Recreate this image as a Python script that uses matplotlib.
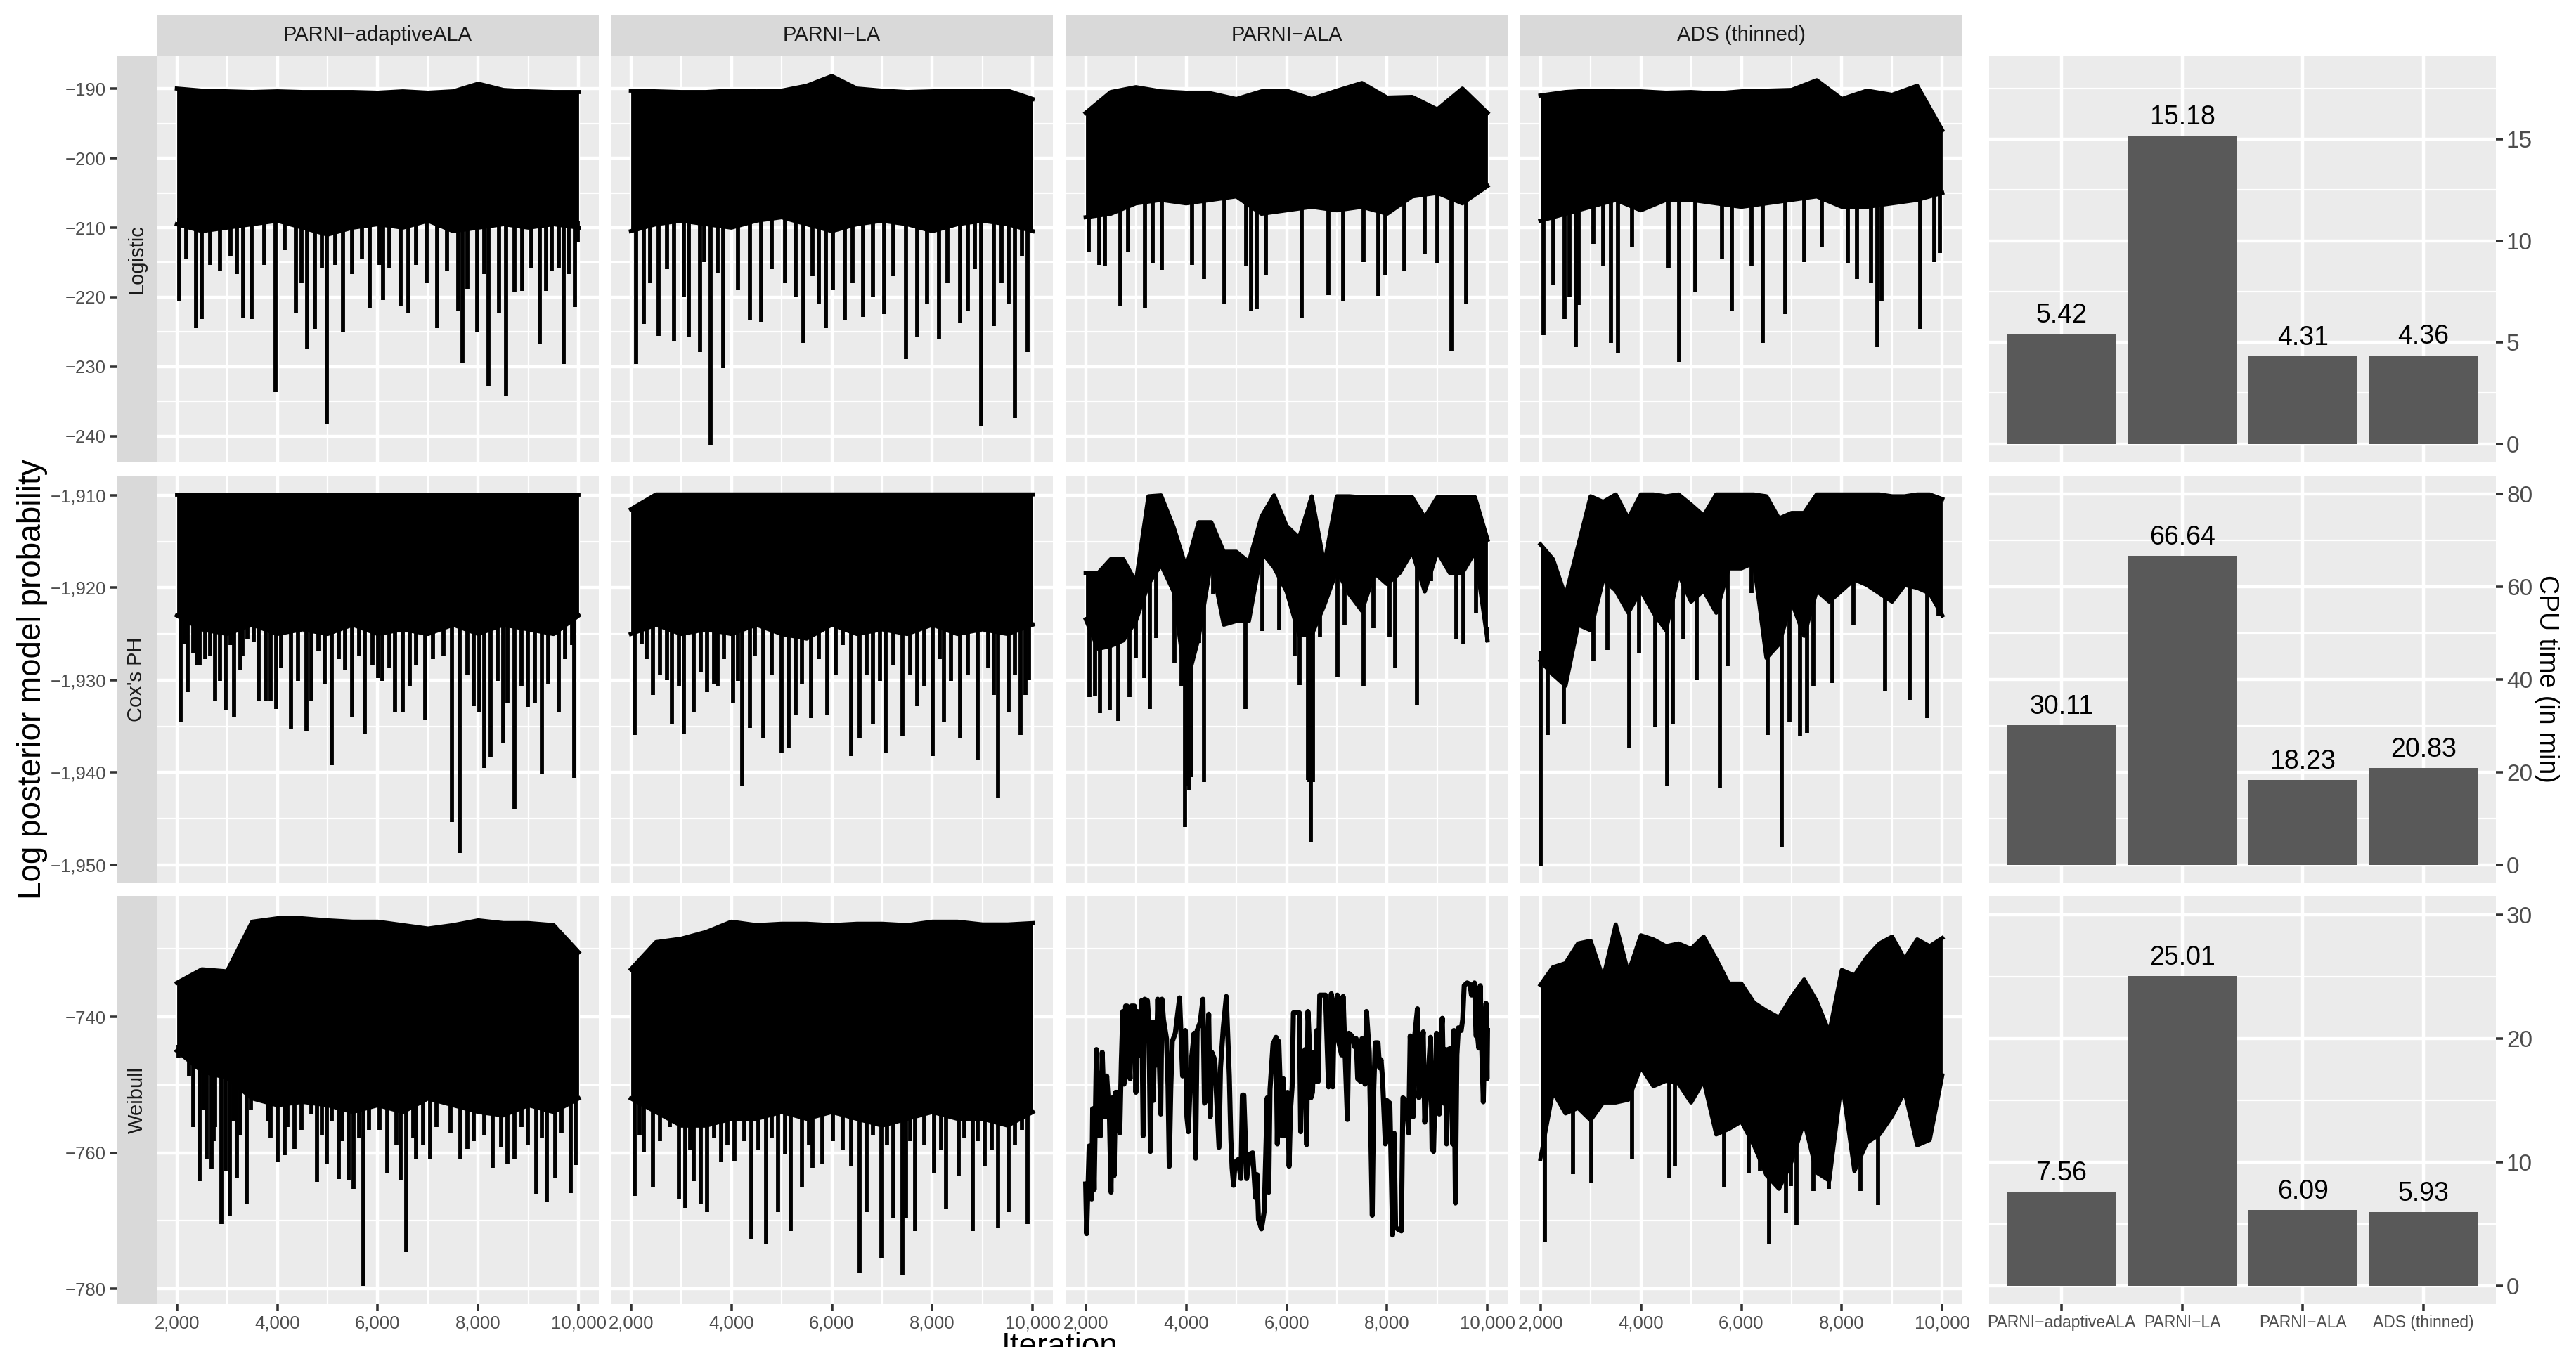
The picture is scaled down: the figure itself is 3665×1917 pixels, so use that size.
import matplotlib

matplotlib.use("Agg")
import matplotlib.pyplot as plt
import numpy as np
from matplotlib.patches import Rectangle
from matplotlib.ticker import FixedLocator, FuncFormatter

plt.rcParams["font.family"] = ["Liberation Sans", "DejaVu Sans"]

# ---------------------------------------------------------------- data
samplers = ["PARNI\u2212adaptiveALA", "PARNI\u2212LA", "PARNI\u2212ALA", "ADS (thinned)"]
models = ["Logistic", "Cox's PH", "Weibull"]

cpu_logistic = [5.42, 15.18, 4.31, 4.36]
cpu_cox = [30.11, 66.64, 18.23, 20.83]
cpu_weibull = [7.56, 25.01, 6.09, 5.93]

# Trace envelopes: upper / lower edge of the dense part of each chain,
# read at evenly spaced iterations between 2,000 and 10,000,
# plus the isolated downward excursions as (iteration, value).
logit_adapt_hi = [-190.0, -190.3, -190.4, -190.5, -190.4, -190.5, -190.5, -190.5, -190.6,
                  -190.4, -190.6, -190.4, -189.3, -190.2, -190.4, -190.5, -190.5]
logit_adapt_lo = [-209.5, -210.5, -210.0, -209.5, -209.0, -210.0, -211.0, -210.0, -209.5,
                  -210.0, -209.0, -210.5, -210.0, -209.5, -210.0, -209.5, -210.0]
logit_adapt_dips = [(2054, -220.6), (2189, -214.5), (2377, -224.4), (2498, -223.1), (2660, -215.4),
                    (2862, -216.3), (3064, -214.1), (3199, -216.7), (3320, -223.0), (3495, -223.1),
                    (3737, -215.4), (3966, -233.6), (4142, -213.2), (4370, -222.2), (4478, -218.0),
                    (4599, -227.4), (4747, -224.5), (4882, -215.8), (4990, -238.2), (5151, -215.4),
                    (5313, -225.0), (5489, -216.7), (5691, -214.5), (5838, -221.5), (6028, -215.4),
                    (6108, -220.4), (6229, -215.8), (6458, -221.3), (6606, -222.2), (6768, -215.4),
                    (6970, -218.0), (7185, -224.4), (7374, -216.3), (7603, -222.0), (7684, -229.4),
                    (7779, -218.9), (7980, -225.0), (8115, -216.7), (8209, -232.8), (8411, -222.2),
                    (8559, -234.2), (8721, -219.3), (8882, -219.1), (9058, -215.8), (9219, -226.7),
                    (9354, -219.1), (9462, -216.3), (9597, -215.8), (9704, -229.6), (9799, -216.7),
                    (9919, -221.4), (9974, -212.0)]

logit_la_hi = [-190.3, -190.4, -190.5, -190.5, -190.3, -190.4, -190.3, -189.6, -188.2,
               -190.0, -190.3, -190.5, -190.4, -190.3, -190.4, -190.3, -191.5]
logit_la_lo = [-210.5, -209.5, -209.0, -209.5, -210.0, -209.0, -208.5, -209.5, -210.5,
               -209.5, -209.0, -209.5, -210.5, -209.5, -209.0, -209.5, -210.5]
logit_la_dips = [(2108, -229.6), (2256, -223.8), (2377, -218.0), (2552, -225.6), (2714, -216.0),
                 (2862, -226.4), (3051, -220.0), (3158, -225.7), (3374, -227.9), (3455, -215.0),
                 (3590, -241.2), (3724, -216.5), (3845, -230.2), (4128, -219.0), (4371, -223.2),
                 (4600, -223.5), (4802, -216.0), (5071, -218.0), (5273, -220.0), (5435, -226.6),
                 (5610, -217.0), (5745, -221.0), (5879, -224.4), (6014, -219.0), (6256, -223.3),
                 (6418, -218.0), (6620, -222.8), (6822, -220.0), (7038, -222.4), (7226, -217.0),
                 (7469, -228.9), (7698, -225.7), (7900, -221.0), (8129, -226.1), (8304, -218.0),
                 (8547, -223.7), (8708, -222.0), (8843, -216.0), (8978, -238.5), (9220, -224.1),
                 (9382, -218.0), (9516, -221.0), (9651, -237.4), (9786, -214.0), (9893, -227.9)]

logit_ala_hi = [-193.5, -190.5, -189.8, -190.4, -190.6, -190.7, -191.5, -190.4, -190.3,
                -191.5, -190.3, -189.2, -191.3, -191.2, -193.0, -190.0, -193.5]
logit_ala_lo = [-208.5, -208.0, -206.5, -206.0, -206.5, -206.0, -205.5, -208.0, -207.5,
                -207.0, -207.5, -207.0, -208.0, -205.5, -205.0, -206.5, -204.0]
logit_ala_dips = [(2058, -213.4), (2268, -215.4), (2384, -215.6), (2698, -221.3), (2850, -213.4),
                  (3176, -221.5), (3339, -215.2), (3513, -216.1), (4118, -215.4), (4363, -217.4),
                  (4759, -221.0), (5201, -215.6), (5294, -222.0), (5399, -221.7), (5585, -216.9),
                  (6295, -223.0), (6831, -219.7), (7122, -220.6), (7529, -215.0), (7820, -219.8),
                  (7960, -216.9), (8344, -216.3), (8751, -213.8), (9007, -215.2), (9275, -227.7),
                  (9578, -221.0)]

logit_ads_hi = [-191.0, -190.5, -190.3, -190.4, -190.4, -190.6, -190.5, -190.7, -190.4,
                -190.3, -190.2, -188.8, -191.5, -190.3, -190.9, -189.6, -196.0]
logit_ads_lo = [-209.0, -208.0, -207.0, -206.0, -207.5, -206.0, -206.0, -206.5, -207.0,
                -206.5, -206.0, -205.5, -207.0, -207.0, -206.5, -206.0, -205.0]
logit_ads_dips = [(2058, -225.5), (2256, -218.2), (2478, -223.1), (2583, -220.0), (2700, -227.2),
                  (2758, -221.1), (3049, -212.3), (3248, -215.6), (3399, -226.6), (3551, -228.1),
                  (3819, -212.8), (4553, -215.8), (4763, -229.3), (5090, -219.3), (5615, -214.5),
                  (5813, -222.0), (6198, -215.6), (6431, -226.6), (6874, -222.4), (7247, -215.0),
                  (7597, -212.8), (8122, -215.2), (8297, -217.4), (8588, -218.0), (8705, -227.2),
                  (8798, -220.6), (9556, -224.5), (9836, -215.0), (9952, -213.6)]

cox_adapt_hi = [-1909.9, -1909.9, -1909.9, -1909.9, -1909.9, -1909.9, -1909.9, -1909.9, -1909.9,
                -1909.9, -1909.9, -1909.9, -1909.9, -1909.9, -1909.9, -1909.9, -1909.9]
cox_adapt_lo = [-1923.0, -1924.5, -1925.0, -1924.0, -1925.0, -1924.5, -1925.0, -1924.0, -1925.0,
                -1924.5, -1925.0, -1924.0, -1925.0, -1924.0, -1924.5, -1925.0, -1923.0]
cox_adapt_dips = [(2081, -1934.6), (2148, -1926.1), (2215, -1931.3), (2323, -1927.1), (2391, -1928.3),
                  (2458, -1928.3), (2566, -1927.7), (2660, -1927.4), (2768, -1932.2), (2862, -1930.1),
                  (2970, -1933.2), (3064, -1926.2), (3145, -1934.0), (3266, -1928.9), (3307, -1927.4),
                  (3401, -1925.5), (3536, -1925.8), (3630, -1932.3), (3765, -1932.3), (3872, -1932.2),
                  (3980, -1933.1), (4074, -1928.6), (4276, -1935.3), (4411, -1930.1), (4573, -1935.5),
                  (4680, -1932.2), (4815, -1926.8), (4950, -1930.4), (5085, -1939.2), (5219, -1927.7),
                  (5354, -1928.9), (5489, -1934.0), (5623, -1927.4), (5745, -1935.8), (5893, -1928.3),
                  (6001, -1929.8), (6095, -1930.1), (6230, -1928.6), (6337, -1933.4), (6499, -1933.4),
                  (6634, -1930.7), (6768, -1928.3), (6943, -1934.3), (7105, -1927.7), (7307, -1927.4),
                  (7482, -1945.4), (7630, -1948.7), (7779, -1929.5), (7913, -1932.8), (8021, -1933.4),
                  (8115, -1939.5), (8250, -1938.3), (8385, -1930.1), (8493, -1936.8), (8587, -1932.5),
                  (8722, -1943.9), (8856, -1930.7), (8991, -1932.9), (9126, -1932.5), (9260, -1940.1),
                  (9395, -1930.4), (9597, -1933.4), (9732, -1927.7), (9867, -1926.2), (9906, -1940.6)]

cox_la_hi = [-1911.5, -1909.9, -1909.9, -1909.9, -1909.9, -1909.9, -1909.9, -1909.9, -1909.9,
             -1909.9, -1909.9, -1909.9, -1909.9, -1909.9, -1909.9, -1909.9, -1909.9]
cox_la_lo = [-1925.0, -1924.0, -1925.0, -1924.5, -1925.0, -1924.0, -1925.0, -1925.5, -1924.0,
             -1925.0, -1924.5, -1925.0, -1924.0, -1925.0, -1924.5, -1925.0, -1924.0]
cox_la_dips = [(2081, -1935.9), (2216, -1926.1), (2310, -1927.7), (2445, -1931.6), (2579, -1929.5),
               (2714, -1930.0), (2822, -1934.7), (2956, -1930.7), (3051, -1935.8), (3253, -1933.4),
               (3387, -1929.2), (3522, -1931.3), (3657, -1930.4), (3724, -1930.7), (3859, -1927.7),
               (4034, -1932.5), (4128, -1930.1), (4223, -1941.5), (4371, -1935.2), (4465, -1927.4),
               (4640, -1936.2), (4802, -1929.5), (5004, -1937.9), (5138, -1937.4), (5273, -1933.7),
               (5408, -1930.4), (5583, -1934.1), (5745, -1927.7), (5906, -1933.8), (6081, -1929.5),
               (6216, -1926.2), (6391, -1938.2), (6553, -1936.2), (6688, -1929.5), (6822, -1934.7),
               (6957, -1930.1), (7065, -1937.9), (7226, -1928.3), (7401, -1936.1), (7563, -1929.5),
               (7698, -1932.8), (7833, -1930.7), (8008, -1938.2), (8142, -1927.7), (8237, -1934.6),
               (8371, -1930.1), (8547, -1936.2), (8708, -1929.5), (8910, -1938.6), (9112, -1928.6),
               (9220, -1931.6), (9314, -1942.8), (9516, -1933.4), (9651, -1929.5), (9758, -1935.9),
               (9853, -1931.6), (9920, -1930.0)]

cox_ala_hi = [-1918.4, -1918.4, -1916.9, -1916.9, -1919.4, -1910.1, -1910.0, -1913.4, -1917.8,
              -1912.9, -1912.9, -1916.1, -1916.1, -1917.2, -1912.3, -1910.0, -1913.3, -1914.6,
              -1910.1, -1917.5, -1910.1, -1910.1, -1910.2, -1910.2, -1910.2, -1910.2, -1910.2,
              -1912.4, -1910.2, -1910.2, -1910.2, -1910.2, -1914.8]
cox_ala_lo = [-1923.4, -1926.6, -1926.3, -1925.7, -1923.6, -1919.6, -1917.5, -1920.4, -1930.6,
              -1925.4, -1917.2, -1924.0, -1923.6, -1923.6, -1916.1, -1917.8, -1920.4, -1925.1,
              -1925.1, -1921.9, -1918.1, -1920.7, -1922.5, -1918.4, -1919.6, -1918.4, -1916.1,
              -1920.4, -1916.1, -1918.4, -1918.4, -1916.1, -1925.7]
cox_ala_dips = [(2075, -1931.8), (2192, -1931.7), (2279, -1933.6), (2482, -1933.3), (2656, -1934.4),
                (2877, -1931.8), (2993, -1927.6), (3167, -1929.8), (3277, -1933.1), (3411, -1925.4),
                (3771, -1928.2), (3904, -1930.6), (3980, -1945.9), (4000, -1940.0), (4030, -1941.5),
                (4067, -1941.9), (4100, -1940.5), (4253, -1926.0), (4351, -1941.0), (4543, -1920.7),
                (4775, -1924.1), (4949, -1923.5), (5182, -1933.1), (5518, -1924.7), (5849, -1924.5),
                (6163, -1927.4), (6256, -1930.5), (6420, -1940.8), (6450, -1941.0), (6488, -1947.6),
                (6520, -1941.0), (6662, -1925.3), (7011, -1929.6), (7156, -1924.1), (7533, -1930.6),
                (7725, -1924.4), (8044, -1925.3), (8160, -1928.6), (8590, -1932.7), (8869, -1919.3),
                (9374, -1925.5), (9525, -1926.1), (9769, -1922.8), (9990, -1925.8)]

cox_ads_hi = [-1915.3, -1916.9, -1920.9, -1915.5, -1910.1, -1910.7, -1909.9, -1912.5, -1909.9,
              -1909.9, -1910.1, -1909.9, -1911.0, -1912.2, -1909.9, -1909.9, -1909.9, -1909.9,
              -1910.1, -1912.5, -1911.9, -1911.9, -1909.9, -1909.9, -1909.9, -1909.9, -1909.9,
              -1909.9, -1910.1, -1910.1, -1909.9, -1909.9, -1910.4]
cox_ads_lo = [-1927.9, -1929.4, -1930.6, -1924.0, -1924.6, -1919.1, -1920.3, -1922.7, -1920.3,
              -1922.7, -1924.6, -1918.5, -1921.5, -1920.3, -1922.7, -1917.9, -1917.9, -1917.3,
              -1927.6, -1926.1, -1921.5, -1925.2, -1920.3, -1921.5, -1920.3, -1919.1, -1919.7,
              -1920.6, -1921.5, -1919.7, -1920.0, -1920.6, -1923.0]
cox_ads_dips = [(2000, -1950.1), (2152, -1935.9), (2466, -1934.8), (2653, -1924.0), (3049, -1927.9),
                (3329, -1926.7), (3772, -1937.4), (3959, -1927.0), (4285, -1935.1), (4530, -1941.5),
                (4635, -1934.8), (4845, -1925.5), (5113, -1930.0), (5568, -1941.6), (5731, -1928.5),
                (6198, -1920.6), (6524, -1935.9), (6804, -1948.1), (6956, -1934.5), (7165, -1936.0),
                (7305, -1935.7), (7434, -1930.6), (7807, -1930.3), (8238, -1924.0), (8856, -1931.2),
                (9346, -1932.1), (9696, -1934.1), (9929, -1923.0)]

weib_adapt_hi = [-735.0, -733.0, -733.3, -726.0, -725.5, -725.5, -725.8, -726.0, -726.0,
                 -726.5, -727.0, -726.5, -725.8, -726.2, -726.2, -726.5, -730.5]
weib_adapt_lo = [-745.0, -748.0, -749.0, -752.0, -753.0, -752.5, -753.0, -754.0, -753.0,
                 -754.0, -752.0, -753.0, -754.0, -754.5, -753.0, -754.0, -752.0]
weib_adapt_dips = [(2027, -746.0), (2242, -748.8), (2323, -756.2), (2458, -764.2), (2525, -753.6),
                   (2593, -760.9), (2687, -762.4), (2727, -758.3), (2768, -756.2), (2889, -770.5),
                   (2970, -762.7), (3051, -769.2), (3131, -755.3), (3199, -763.7), (3266, -757.5),
                   (3388, -767.6), (3468, -753.6), (3657, -751.6), (3805, -755.3), (3872, -757.9),
                   (4007, -761.4), (4142, -760.3), (4209, -756.2), (4344, -759.4), (4478, -756.6),
                   (4680, -754.4), (4788, -764.3), (4882, -757.5), (4990, -761.6), (5085, -755.3),
                   (5219, -763.9), (5287, -758.3), (5421, -764.0), (5516, -765.3), (5623, -757.9),
                   (5718, -779.6), (5825, -756.6), (6028, -756.6), (6189, -762.9), (6364, -758.8),
                   (6458, -764.0), (6566, -774.6), (6701, -757.9), (6768, -760.9), (6903, -758.8),
                   (7038, -760.9), (7172, -756.2), (7307, -751.8), (7442, -757.0), (7644, -760.9),
                   (7778, -759.4), (7913, -758.3), (8115, -757.5), (8290, -762.2), (8452, -759.2),
                   (8587, -761.6), (8721, -760.9), (8856, -756.2), (8991, -758.8), (9152, -766.0),
                   (9260, -757.9), (9368, -767.2), (9530, -763.7), (9664, -757.0), (9840, -765.9),
                   (9934, -761.8)]

weib_la_hi = [-733.0, -729.0, -728.5, -727.5, -726.0, -726.5, -726.3, -726.3, -726.5,
              -726.3, -726.3, -726.5, -726.0, -726.0, -726.4, -726.4, -726.2]
weib_la_lo = [-752.0, -754.0, -756.0, -756.0, -755.0, -755.0, -754.0, -755.0, -754.0,
              -755.0, -756.0, -755.0, -754.0, -755.0, -755.0, -756.0, -754.0]
weib_la_dips = [(2081, -766.3), (2175, -757.5), (2256, -759.8), (2445, -765.0), (2579, -758.3),
                (2781, -756.2), (2956, -766.9), (3078, -768.1), (3185, -759.6), (3253, -764.2),
                (3387, -767.6), (3522, -768.7), (3657, -757.9), (3791, -761.4), (3926, -758.8),
                (4061, -761.2), (4263, -758.3), (4398, -772.8), (4532, -759.6), (4694, -773.5),
                (4802, -757.9), (4936, -768.7), (5071, -760.1), (5179, -771.5), (5408, -765.0),
                (5543, -758.8), (5610, -762.2), (5812, -761.6), (6014, -758.3), (6216, -759.6),
                (6391, -762.0), (6553, -777.6), (6688, -768.7), (6822, -757.5), (6984, -775.4),
                (7092, -758.8), (7226, -769.6), (7401, -778.0), (7469, -769.6), (7563, -758.3),
                (7658, -771.5), (7833, -758.8), (8034, -762.9), (8169, -759.6), (8277, -768.3),
                (8520, -763.3), (8641, -757.9), (8802, -771.5), (8910, -758.3), (9045, -762.0),
                (9180, -759.6), (9314, -771.1), (9516, -768.7), (9651, -758.8), (9786, -756.6),
                (9893, -770.5)]

weib_ala_trace = [
    (2000, -764.6), (2020, -771.9), (2070, -759.0), (2120, -766.8), (2140, -753.5), (2170, -765.4),
    (2215, -744.8), (2245, -757.5), (2275, -748.3), (2300, -757.5), (2330, -745.2), (2360, -751.9),
    (2390, -754.7), (2420, -748.7), (2475, -755.1), (2505, -765.8), (2535, -751.9), (2565, -763.4),
    (2595, -751.1), (2650, -751.1), (2680, -757.1), (2710, -746.7), (2740, -739.2), (2765, -749.9),
    (2795, -738.4), (2825, -738.4), (2885, -749.1), (2910, -738.4), (2970, -738.4), (3000, -751.1),
    (3030, -739.2), (3085, -745.6), (3115, -737.6), (3145, -757.5), (3175, -737.4), (3230, -737.6),
    (3260, -740.8), (3290, -759.8), (3320, -740.8), (3350, -752.3), (3375, -740.8), (3405, -747.1),
    (3435, -737.4), (3495, -754.3), (3520, -737.4), (3550, -740.4), (3610, -743.2), (3640, -750.3),
    (3665, -762.0), (3695, -750.7), (3725, -743.6), (3785, -742.4), (3870, -737.2), (3930, -748.7),
    (3985, -742.0), (4015, -754.7), (4045, -756.9), (4075, -751.1), (4105, -746.3), (4160, -742.4),
    (4190, -760.8), (4220, -742.0), (4280, -740.8), (4335, -737.4), (4365, -752.7), (4395, -752.3),
    (4450, -739.6), (4480, -754.7), (4510, -745.2), (4570, -746.3), (4625, -754.7), (4655, -759.2),
    (4685, -747.5), (4740, -741.6), (4800, -737.0), (4860, -748.7), (4890, -757.9), (4915, -762.2),
    (4945, -764.8), (4975, -761.4), (5035, -761.0), (5090, -763.8), (5120, -751.5), (5150, -751.5),
    (5205, -763.8), (5265, -760.2), (5325, -760.0), (5380, -766.6), (5410, -763.2), (5440, -769.8),
    (5500, -771.2), (5555, -768.6), (5615, -751.9), (5645, -765.8), (5670, -750.7), (5730, -744.0),
    (5790, -743.0), (5815, -758.7), (5845, -743.6), (5905, -757.5), (5935, -749.1), (5960, -757.5),
    (6020, -751.1), (6050, -762.0), (6080, -753.5), (6110, -750.3), (6135, -739.4), (6195, -739.4),
    (6255, -739.4), (6280, -756.9), (6310, -745.6), (6370, -744.8), (6400, -758.8), (6425, -739.2),
    (6455, -744.0), (6485, -751.9), (6515, -751.1), (6545, -745.2), (6570, -749.5), (6600, -742.0),
    (6630, -749.5), (6660, -736.8), (6775, -736.8), (6835, -750.3), (6890, -736.6), (6920, -750.3),
    (6950, -738.8), (7010, -736.8), (7035, -743.6), (7095, -745.6), (7125, -737.0), (7155, -743.6),
    (7210, -755.1), (7240, -742.4), (7300, -742.8), (7355, -744.4), (7385, -743.2), (7415, -749.1),
    (7475, -749.5), (7500, -743.2), (7560, -749.9), (7590, -739.2), (7645, -745.2), (7705, -769.2),
    (7735, -750.7), (7765, -743.8), (7820, -743.8), (7850, -747.5), (7880, -746.3), (7910, -749.1),
    (7965, -758.7), (7995, -752.3), (8055, -752.7), (8110, -772.1), (8140, -757.1), (8170, -771.0),
    (8230, -771.3), (8285, -771.5), (8315, -751.9), (8375, -752.3), (8430, -757.1), (8460, -742.8),
    (8520, -754.7), (8550, -742.8), (8605, -738.8), (8635, -751.9), (8695, -744.4), (8720, -742.2),
    (8750, -755.5), (8810, -749.5), (8865, -743.0), (8895, -759.4), (8925, -759.8), (8985, -742.4),
    (9040, -754.3), (9070, -743.2), (9100, -740.2), (9130, -752.7), (9160, -744.8), (9185, -758.7),
    (9215, -744.8), (9275, -744.6), (9305, -758.7), (9330, -742.0), (9360, -767.4), (9390, -745.6),
    (9420, -741.6), (9475, -742.0), (9505, -740.4), (9535, -735.4), (9595, -735.0), (9650, -735.2),
    (9680, -736.8), (9740, -735.0), (9770, -742.8), (9795, -742.4), (9825, -744.6), (9855, -735.4),
    (9885, -744.8), (9915, -752.5), (9940, -744.0), (9970, -738.0), (9990, -749.1), (10000, -742.0),
]

weib_ads_hi = [-735.3, -732.7, -732.1, -729.2, -728.8, -734.3, -726.4, -733.5, -728.0, -728.6,
               -729.6, -729.2, -730.0, -728.2, -731.5, -735.1, -735.1, -737.9, -739.1, -740.1,
               -737.1, -734.5, -737.7, -742.3, -733.1, -733.9, -731.2, -729.2, -728.2, -731.5,
               -728.6, -729.6, -728.4]
weib_ads_lo = [-760.9, -751.0, -754.2, -753.4, -755.2, -752.6, -752.6, -752.2, -747.4, -750.2,
               -749.4, -749.8, -752.6, -749.4, -757.3, -756.5, -755.4, -758.9, -763.3, -765.3,
               -761.3, -755.4, -762.9, -764.1, -749.4, -762.7, -758.5, -757.3, -754.6, -751.0,
               -758.9, -758.1, -748.6]
weib_ads_dips = [(2087, -773.2), (2650, -763.1), (3016, -764.4), (3829, -760.9), (4572, -763.7),
                 (4682, -761.9), (5658, -765.1), (6151, -762.9), (6366, -762.7), (6558, -773.4),
                 (6883, -768.8), (6993, -764.9), (7092, -770.6), (7429, -765.6), (7690, -764.1),
                 (7748, -765.3), (8375, -765.6), (8723, -767.7), (9507, -758.9), (9722, -758.1)]

# ---------------------------------------------------------------- layout
FIG_W, FIG_H, DPI = 3665, 1917, 300
PANEL_BG = "#EBEBEB"
STRIP_BG = "#D9D9D9"
TICK_COLOR = "#333333"
LABEL_COLOR = "#4D4D4D"
TRACE_LW = 1.4

col_left = [223, 869, 1516, 2163]
col_width = 629
row_top = [79, 677, 1275]
row_bottom = [658, 1257, 1856]
bar_left, bar_right = 2830, 3551

row_ylim = [(-243.74, -185.25), (-1951.98, -1907.87), (-782.27, -722.2)]
row_major = [list(range(-240, -189, 10)), list(range(-1950, -1909, 10)), [-780, -760, -740]]
row_minor = [list(range(-235, -184, 10)), list(range(-1945, -1914, 10)), [-770, -750, -730]]
iter_major = [2000, 4000, 6000, 8000, 10000]
iter_minor = [3000, 5000, 7000, 9000]


def rect(left, top, right, bottom):
    return [left / FIG_W, 1 - bottom / FIG_H, (right - left) / FIG_W, (bottom - top) / FIG_H]


def style_panel(ax):
    ax.set_facecolor(PANEL_BG)
    for spine in ax.spines.values():
        spine.set_visible(False)
    ax.set_axisbelow(True)
    ax.grid(which="major", color="white", linewidth=1.07)
    ax.grid(which="minor", color="white", linewidth=0.53)
    ax.tick_params(which="major", length=2.4, width=0.85, color=TICK_COLOR,
                   labelcolor=LABEL_COLOR, pad=1.2)
    ax.tick_params(which="minor", length=0)


def draw_band(ax, hi, lo, dips):
    x = np.linspace(2000, 10000, len(hi))
    ax.fill_between(x, lo, hi, color="black", linewidth=0)
    ax.plot(x, hi, color="black", lw=TRACE_LW, solid_joinstyle="round")
    ax.plot(x, lo, color="black", lw=TRACE_LW, solid_joinstyle="round")
    its = [d[0] for d in dips]
    vals = [d[1] for d in dips]
    starts = np.interp(its, x, lo) + 1.0
    ax.vlines(its, starts, vals, color="black", lw=TRACE_LW)


def thousands(v, pos):
    return f"{v:,.0f}".replace("-", "\u2212")


fig = plt.figure(figsize=(FIG_W / DPI, FIG_H / DPI), dpi=DPI)

bands = {
    (0, 0): (logit_adapt_hi, logit_adapt_lo, logit_adapt_dips),
    (0, 1): (logit_la_hi, logit_la_lo, logit_la_dips),
    (0, 2): (logit_ala_hi, logit_ala_lo, logit_ala_dips),
    (0, 3): (logit_ads_hi, logit_ads_lo, logit_ads_dips),
    (1, 0): (cox_adapt_hi, cox_adapt_lo, cox_adapt_dips),
    (1, 1): (cox_la_hi, cox_la_lo, cox_la_dips),
    (1, 2): (cox_ala_hi, cox_ala_lo, cox_ala_dips),
    (1, 3): (cox_ads_hi, cox_ads_lo, cox_ads_dips),
    (2, 0): (weib_adapt_hi, weib_adapt_lo, weib_adapt_dips),
    (2, 1): (weib_la_hi, weib_la_lo, weib_la_dips),
    (2, 3): (weib_ads_hi, weib_ads_lo, weib_ads_dips),
}

for r in range(3):
    for c in range(4):
        ax = fig.add_axes(rect(col_left[c], row_top[r], col_left[c] + col_width, row_bottom[r]))
        style_panel(ax)
        if (r, c) in bands:
            draw_band(ax, *bands[(r, c)])
        else:
            ax.plot([p[0] for p in weib_ala_trace], [p[1] for p in weib_ala_trace],
                    color="black", lw=1.7, solid_joinstyle="round")
        ax.set_xlim(1600, 10400)
        ax.set_ylim(*row_ylim[r])
        ax.xaxis.set_major_locator(FixedLocator(iter_major))
        ax.xaxis.set_minor_locator(FixedLocator(iter_minor))
        ax.yaxis.set_major_locator(FixedLocator(row_major[r]))
        ax.yaxis.set_minor_locator(FixedLocator(row_minor[r]))
        ax.xaxis.set_major_formatter(FuncFormatter(thousands))
        ax.yaxis.set_major_formatter(FuncFormatter(thousands))
        ax.tick_params(labelsize=6.2)
        if c == 0:
            # y axis sits outside the row strip
            ax.spines["left"].set_position(("outward", 57 / DPI * 72))
        else:
            ax.tick_params(axis="y", left=False, labelleft=False)
        if r != 2:
            ax.tick_params(axis="x", bottom=False, labelbottom=False)

# column strips
for c, name in enumerate(samplers):
    fig.add_artist(Rectangle((col_left[c] / FIG_W, 1 - 79 / FIG_H), col_width / FIG_W, 58 / FIG_H,
                             transform=fig.transFigure, facecolor=STRIP_BG, edgecolor="none"))
    fig.text((col_left[c] + col_width / 2) / FIG_W, 1 - 50 / FIG_H, name, ha="center", va="center",
             fontsize=7, color="#1A1A1A")

# row strips
for r, name in enumerate(models):
    fig.add_artist(Rectangle((166 / FIG_W, 1 - row_bottom[r] / FIG_H), 57 / FIG_W,
                             (row_bottom[r] - row_top[r]) / FIG_H,
                             transform=fig.transFigure, facecolor=STRIP_BG, edgecolor="none"))
    fig.text(194.5 / FIG_W, 1 - (row_top[r] + row_bottom[r]) / 2 / FIG_H, name, rotation=90,
             ha="center", va="center", fontsize=7, color="#1A1A1A")

# CPU time bars
cpu_rows = [cpu_logistic, cpu_cox, cpu_weibull]
bar_major = [[0, 5, 10, 15], [0, 20, 40, 60, 80], [0, 10, 20, 30]]
bar_minor = [[2.5, 7.5, 12.5, 17.5], [10, 30, 50, 70], [5, 15, 25]]
for r, vals in enumerate(cpu_rows):
    ax = fig.add_axes(rect(bar_left, row_top[r], bar_right, row_bottom[r]))
    style_panel(ax)
    pos = np.arange(len(samplers))
    ax.bar(pos, vals, width=0.9, color="#595959")
    for p, v in zip(pos, vals):
        ax.annotate(f"{v:.2f}", (p, v), xytext=(0, 2.0), textcoords="offset points",
                    ha="center", va="bottom", fontsize=9, color="black")
    top = max(vals) * 1.2
    ax.set_ylim(-0.05 * top, 1.05 * top)
    ax.set_xlim(-0.6, len(samplers) - 0.4)
    ax.yaxis.set_major_locator(FixedLocator(bar_major[r]))
    ax.yaxis.set_minor_locator(FixedLocator(bar_minor[r]))
    ax.yaxis.tick_right()
    ax.tick_params(axis="y", labelsize=8)
    ax.set_xticks(pos)
    ax.grid(axis="x", which="minor", visible=False)
    if r == 2:
        ax.set_xticklabels(samplers, fontsize=5.5)
    else:
        ax.tick_params(axis="x", bottom=False, labelbottom=False)

fig.text(46 / FIG_W, 1 - 967 / FIG_H, "Log posterior model probability", rotation=90,
         ha="center", va="center", fontsize=11, color="black")
# the x title sits partly below the bottom edge, as in the original figure
fig.text(1508 / FIG_W, 1 - 1895 / FIG_H, "Iteration", ha="center", va="top",
         fontsize=11, color="black")
fig.text(3623 / FIG_W, 1 - 966 / FIG_H, "CPU time (in min)", rotation=-90,
         ha="center", va="center", fontsize=9, color="black")

fig.savefig("out.png", dpi=DPI)
